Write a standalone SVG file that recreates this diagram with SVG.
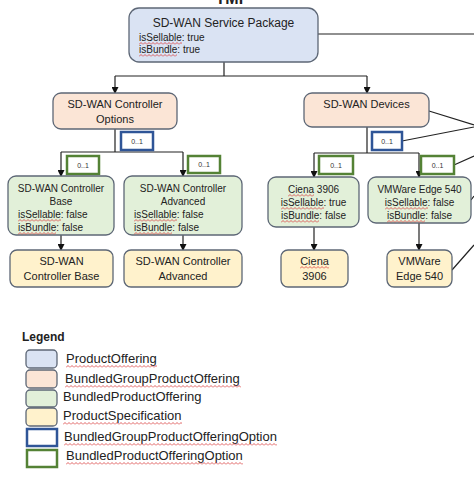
<svg xmlns="http://www.w3.org/2000/svg" width="474" height="479" viewBox="0 0 474 479">
<defs>
<marker id="ah" markerUnits="userSpaceOnUse" markerWidth="7" markerHeight="7" refX="6" refY="3.5" orient="auto">
<path d="M0,0 L7,3.5 L0,7 z" fill="#111"/>
</marker>
<pattern id="sq" width="4" height="3" patternUnits="userSpaceOnUse">
<path d="M0,2.5 L2,0.5 L4,2.5" fill="none" stroke="#d83a3a" stroke-width="0.8"/>
</pattern>
</defs>
<style>
.n{stroke:#5d6776;stroke-width:1.3}
.po{fill:#dae3f3}
.bg{fill:#fbe5d6}
.bo{fill:#e2f0d9}
.ps{fill:#fff2cc}
.opb{fill:#fff;stroke:#2f5597;stroke-width:2.5}
.opg{fill:#fff;stroke:#548235;stroke-width:2.5}
text{font-family:"Liberation Sans",Arial,sans-serif;fill:#222}
.t12{font-size:12px}
.t11{font-size:11px}
.t10{font-size:10px}
.t7{font-size:7px;fill:#333}
.c{text-anchor:middle}
.lg{font-size:13px}
.w{fill:url(#sq)}
.ln{stroke:#222;stroke-width:1.2;fill:none}
</style>
<rect width="474" height="479" fill="#fff"/>
<text x="232" y="4" class="c" style="font-size:16px;font-weight:bold">TMF</text>

<g id="connectors">
<path class="ln" d="M224,62 V76 M115,76 H367"/>
<path class="ln" d="M115,76 V93" marker-end="url(#ah)"/>
<path class="ln" d="M367,76 V93" marker-end="url(#ah)"/>
<path class="ln" d="M318,34 H474"/>
<path class="ln" d="M115,129 V152 M61,152 H183"/>
<path class="ln" d="M61,152 V176" marker-end="url(#ah)"/>
<path class="ln" d="M183,152 V176" marker-end="url(#ah)"/>
<path class="ln" d="M61,235 V250" marker-end="url(#ah)"/>
<path class="ln" d="M183,235 V250" marker-end="url(#ah)"/>
<path class="ln" d="M367,127 V153 M314,153 H419"/>
<path class="ln" d="M314,153 V177" marker-end="url(#ah)"/>
<path class="ln" d="M419,153 V177" marker-end="url(#ah)"/>
<path class="ln" d="M314,227 V250" marker-end="url(#ah)"/>
<path class="ln" d="M419,223 V250" marker-end="url(#ah)"/>
<path class="ln" d="M429,111 L474,125 M402,141 L474,127 M454,165 L474,156 M471,200 L474,196 M452,270 L474,245"/>
</g>

<g id="svc-package">
<rect class="n po" x="129" y="8" width="189" height="54" rx="10"/>
<text x="223.5" y="27" class="t12 c">SD-WAN Service Package</text>
<text x="139" y="41" class="t10">isSellable: true</text>
<text x="139" y="53" class="t10">isBundle: true</text>
<rect class="w" transform="translate(139,42)" width="43" height="3"/>
<rect class="w" transform="translate(139,54)" width="38" height="3"/>
</g>

<g id="ctrl-options">
<rect class="n bg" x="53" y="93" width="124" height="36" rx="8"/>
<text x="115" y="108" class="t11 c">SD-WAN Controller</text>
<text x="115" y="123" class="t11 c">Options</text>
</g>

<g id="opt-ctrl">
<rect class="opb" x="121" y="132" width="32" height="18"/>
<text x="137" y="144" class="t7 c">0..1</text>
</g>
<g id="opt-ctrl-base">
<rect class="opg" x="67" y="156" width="32" height="18"/>
<text x="83" y="168" class="t7 c">0..1</text>
</g>
<g id="opt-ctrl-adv">
<rect class="opg" x="188" y="156" width="32" height="17"/>
<text x="204" y="167" class="t7 c">0..1</text>
</g>

<g id="bpo-ctrl-base">
<rect class="n bo" x="8" y="176" width="106" height="59" rx="8"/>
<text x="61" y="192" class="t10 c">SD-WAN Controller</text>
<text x="61" y="205" class="t10 c">Base</text>
<text x="18" y="218" class="t10">isSellable: false</text>
<text x="18" y="231" class="t10">isBundle: false</text>
<rect class="w" transform="translate(18,219)" width="43" height="3"/>
<rect class="w" transform="translate(18,232)" width="38" height="3"/>
</g>

<g id="bpo-ctrl-adv">
<rect class="n bo" x="124" y="176" width="118" height="59" rx="8"/>
<text x="183" y="192" class="t10 c">SD-WAN Controller</text>
<text x="183" y="205" class="t10 c">Advanced</text>
<text x="134" y="218" class="t10">isSellable: false</text>
<text x="134" y="231" class="t10">isBundle: false</text>
<rect class="w" transform="translate(134,219)" width="43" height="3"/>
<rect class="w" transform="translate(134,232)" width="38" height="3"/>
</g>

<g id="ps-ctrl-base">
<rect class="n ps" x="10" y="250" width="103" height="37" rx="7"/>
<text x="61.5" y="265" class="t11 c">SD-WAN</text>
<text x="61.5" y="280" class="t11 c">Controller Base</text>
</g>

<g id="ps-ctrl-adv">
<rect class="n ps" x="124" y="250" width="118" height="37" rx="7"/>
<text x="183" y="265" class="t11 c">SD-WAN Controller</text>
<text x="183" y="280" class="t11 c">Advanced</text>
</g>

<g id="devices">
<rect class="n bg" x="304" y="93" width="125" height="34" rx="8"/>
<text x="366.5" y="108" class="t11 c">SD-WAN Devices</text>
</g>

<g id="opt-dev">
<rect class="opb" x="372" y="132" width="30" height="18"/>
<text x="387" y="144" class="t7 c">0..1</text>
</g>
<g id="opt-ciena">
<rect class="opg" x="319" y="156" width="34" height="18"/>
<text x="336" y="168" class="t7 c">0..1</text>
</g>
<g id="opt-vmware">
<rect class="opg" x="421" y="156" width="33" height="18"/>
<text x="437.5" y="168" class="t7 c">0..1</text>
</g>

<g id="bpo-ciena">
<rect class="n bo" x="268" y="177" width="91" height="50" rx="8"/>
<text x="313.5" y="193" class="t10 c">Ciena 3906</text>
<text x="313.5" y="206" class="t10 c">isSellable: true</text>
<text x="313.5" y="219" class="t10 c">isBundle: false</text>
<rect class="w" transform="translate(288,194)" width="26" height="3"/>
<rect class="w" transform="translate(281,207)" width="43" height="3"/>
<rect class="w" transform="translate(281,220)" width="38" height="3"/>
</g>

<g id="bpo-vmware">
<rect class="n bo" x="368" y="177" width="103" height="46" rx="8"/>
<text x="419.5" y="193" class="t10 c">VMWare Edge 540</text>
<text x="419.5" y="206" class="t10 c">isSellable: false</text>
<text x="419.5" y="219" class="t10 c">isBundle: false</text>
<rect class="w" transform="translate(385,207)" width="43" height="3"/>
<rect class="w" transform="translate(387,220)" width="38" height="3"/>
</g>

<g id="ps-ciena">
<rect class="n ps" x="281" y="250" width="67" height="37" rx="7"/>
<text x="314.5" y="265" class="t11 c">Ciena</text>
<text x="314.5" y="280" class="t11 c">3906</text>
<rect class="w" transform="translate(300,266)" width="29" height="3"/>
</g>

<g id="ps-vmware">
<rect class="n ps" x="387" y="250" width="65" height="37" rx="7"/>
<text x="419.5" y="265" class="t11 c">VMWare</text>
<text x="419.5" y="280" class="t11 c">Edge 540</text>
</g>

<g id="legend">
<text x="22" y="341" style="font-size:12px;font-weight:bold">Legend</text>
<rect class="n po" x="26" y="350" width="31" height="18" rx="4"/>
<rect class="n bg" x="26" y="370" width="31" height="18" rx="4"/>
<rect class="n bo" x="26" y="390" width="31" height="17" rx="4"/>
<rect class="n ps" x="26" y="408" width="31" height="18" rx="4"/>
<rect class="opb" x="27" y="429" width="30" height="17"/>
<rect class="opg" x="27" y="450" width="30" height="17"/>
<text x="66" y="363" class="lg">ProductOffering</text>
<text x="65" y="383" class="lg">BundledGroupProductOffering</text>
<text x="63" y="401" class="lg">BundledProductOffering</text>
<text x="63" y="420" class="lg">ProductSpecification</text>
<text x="64" y="441" class="lg">BundledGroupProductOfferingOption</text>
<text x="66" y="460" class="lg">BundledProductOfferingOption</text>
<rect class="w" transform="translate(66,365)" width="91" height="3"/>
<rect class="w" transform="translate(65,385)" width="176" height="3"/>
<rect class="w" transform="translate(63,422)" width="119" height="3"/>
<rect class="w" transform="translate(64,443)" width="213" height="3"/>
<rect class="w" transform="translate(66,462)" width="177" height="3"/>
</g>
</svg>
